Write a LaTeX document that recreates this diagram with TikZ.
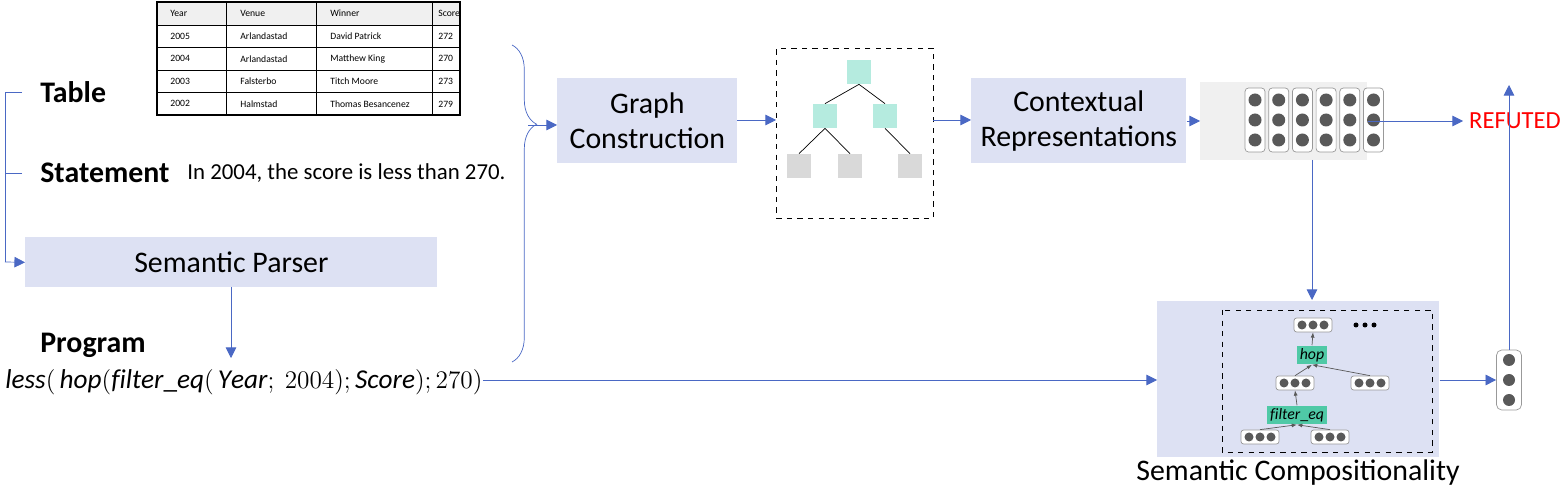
\documentclass[tikz,border=0pt]{standalone}
\usepackage{fontspec}
\setmainfont{Carlito}
\usetikzlibrary{arrows.meta,decorations.pathreplacing}
\definecolor{bx}{HTML}{DDE1F3}
\definecolor{ar}{HTML}{4A68C4}
\definecolor{tl}{HTML}{B5EBDF}
\definecolor{gn}{HTML}{4FC9A6}
\begin{document}
\begin{tikzpicture}[x=0.02cm,y=-0.02cm,
 arr/.style={ar,-{Triangle[length=6pt,width=6pt]}},
 box/.style={fill=bx,draw=none,inner sep=0},
 lbl/.style={font=\fontsize{17}{20}\selectfont,align=center},
 vec/.style={draw=gray!80,fill=white,rounded corners=1.5pt,minimum width=38*0.02cm,minimum height=14*0.02cm,inner sep=0},
 op/.style={fill=gn,inner sep=1.5pt,font=\small},
 tr/.style={minimum size=24*0.02cm,inner sep=0}]
\useasboundingbox (0,0) rectangle (1566,489);
% table
\fill[gray!12] (157,2) rectangle (460,25);
\draw[line width=1.2pt] (157,2) rectangle (460,115);
\foreach \y in {25,47,70,92} \draw (157,\y)--(460,\y);
\foreach \x in {226,316,432} \draw (\x,2)--(\x,115);
\foreach \r/\a/\b/\c/\d in {0/Year/Venue/Winner/Score,1/2005/Arlandastad/David Patrick/272,2/2004/Arlandastad/Matthew King/270,3/2003/Falsterbo/Titch Moore/273,4/2002/Halmstad/Thomas Besancenez/279}{
 \node[font=\fontsize{5.5}{6}\selectfont,anchor=west,inner sep=0] at (170,13.5+22.6*\r) {\a};
 \node[font=\fontsize{5.5}{6}\selectfont,anchor=west,inner sep=0] at (240,13.5+22.6*\r) {\b};
 \node[font=\fontsize{5.5}{6}\selectfont,anchor=west,inner sep=0] at (330,13.5+22.6*\r) {\c};
 \node[font=\fontsize{5.5}{6}\selectfont,anchor=west,inner sep=0] at (438,13.5+22.6*\r) {\d};}
\node[anchor=west,inner sep=0,font=\bfseries\fontsize{17}{20}\selectfont] (tab) at (40,92) {Table};
\node[anchor=west,inner sep=0,font=\bfseries\fontsize{17}{20}\selectfont] (st) at (40,173) {Statement};
\node[anchor=west,inner sep=0,font=\fontsize{13}{16}\selectfont] (stt) at (187,173) {In 2004, the score is less than 270.};
\node[anchor=west,inner sep=0,font=\bfseries\fontsize{17}{20}\selectfont] (pg) at (40,345) {Program};
\node[anchor=west,inner sep=0,font=\fontsize{15.5}{18}\selectfont] (form) at (5,382) {$\mathit{less}(\,\mathit{hop}(\mathit{filter\_eq}(\,\mathit{Year};\ 2004);\mathit{Score});270)$};
\node[box,minimum width=412*0.02cm,minimum height=50*0.02cm,lbl,anchor=north west] (sp) at (25,237) {Semantic Parser};
\draw[ar] (22,92)--(5,92)--(5,262);
\draw[ar] (22,173)--(5,173);
\draw[arr] (5,262)--(sp.west);
\draw[arr] (231,287)--(231,358);
% brace
\draw[ar,decorate,decoration={brace,amplitude=14pt,aspect=0.25}] (512,45)--(512,362);
\coordinate (bt) at (528,125);
\node[box,minimum width=180*0.02cm,minimum height=85*0.02cm,lbl,anchor=north west] (gc) at (557,78) {Graph\\Construction};
\draw[arr] (bt)--(gc.west|-bt);
% tree
\node[draw,dashed,minimum width=157*0.02cm,minimum height=170*0.02cm,anchor=north west] (tb) at (776,48) {};
\node[tr,fill=tl] (t1) at (859,72) {};
\node[tr,fill=tl] (t2) at (825,116) {};
\node[tr,fill=tl] (t3) at (885,116) {};
\node[tr,fill=gray!30] (b1) at (799,166) {};
\node[tr,fill=gray!30] (b2) at (850,166) {};
\node[tr,fill=gray!30] (b3) at (910,166) {};
\draw (t1.south)--(t2.north) (t1.south)--(t3.north) (t2.south)--(b1.north) (t2.south)--(b2.north) (t3.south)--(b3.north);
\draw[arr] (737,120)--(776,120);
\node[box,minimum width=215*0.02cm,minimum height=85*0.02cm,lbl,anchor=north west] (cr) at (971,78) {Contextual\\Representations};
\draw[arr] (933,120)--(cr.west|-0,120);
% vectors
\node[fill=gray!12,minimum width=167*0.02cm,minimum height=78*0.02cm,anchor=north west,inner sep=0] (vb) at (1200,82) {};
\foreach \i in {0,...,5}{
 \draw[gray!80,fill=white,rounded corners=2pt] (1255+23.7*\i-10,88)rectangle(1255+23.7*\i+10,152);
 \foreach \j in {0,1,2} \fill[gray!130] (1255+23.7*\i,100+20*\j) circle (6.5);}
\draw[arr] (cr.east|-0,121)--(vb.west|-0,121);
\node[red,font=\fontsize{14}{16}\selectfont] (ref) at (1515,121) {REFUTED};
\draw[arr] (vb.east|-0,121)--(ref.west);
% semantic compositionality
\node[box,minimum width=282*0.02cm,minimum height=156*0.02cm,anchor=north west] (sc) at (1157,301) {};
\node[lbl,inner sep=0] at (1298,473) {Semantic Compositionality};
\draw[arr] (1312,160)--(1312,300);
\draw[arr] (form.east|-0,380)--(sc.west|-0,380);
\draw[dashed] (1222,310) rectangle (1432,452);
\node[vec] (v0) at (1313,325) {};
\foreach \k in {-9,0,9}\fill (1365+\k,325) circle (2.5);
\node[op] (hop) at (1312,355) {$\mathit{hop}$};
\node[vec] (v1) at (1295,383) {};
\node[vec] (v2) at (1370,383) {};
\node[op] (fe) at (1297,415) {$\mathit{filter\_eq}$};
\node[vec] (v3) at (1260,437) {};
\node[vec] (v4) at (1330,437) {};
\foreach \v in {v0,v1,v2,v3,v4}\foreach \k in {-11,0,11}\fill[gray!130] ([xshift=\k*0.02cm]\v.center) circle (4.5);
\draw[-{Latex[length=3pt]},gray!70!black] (hop.north)--(v0.south);
\draw[-{Latex[length=3pt]},gray!70!black] (v1.north)--(hop.south);
\draw[-{Latex[length=3pt]},gray!70!black] (v2.north)--(hop.south);
\draw[-{Latex[length=3pt]},gray!70!black] (fe.north)--(v1.south);
\draw[-{Latex[length=3pt]},gray!70!black] (v3.north)--(fe.south);
\draw[-{Latex[length=3pt]},gray!70!black] (v4.north)--(fe.south);
% output vector
\node[draw=gray!80,fill=white,rounded corners=3pt,minimum width=25*0.02cm,minimum height=60*0.02cm,inner sep=0] (ov) at (1509,380) {};
\foreach \j in {-20,0,20}\fill[gray!130] (1509,380+\j) circle (6);
\draw[arr] (sc.east|-0,380)--(ov.west);
\draw[arr] (ov.north)--(1509,85);
\end{tikzpicture}
\end{document}
